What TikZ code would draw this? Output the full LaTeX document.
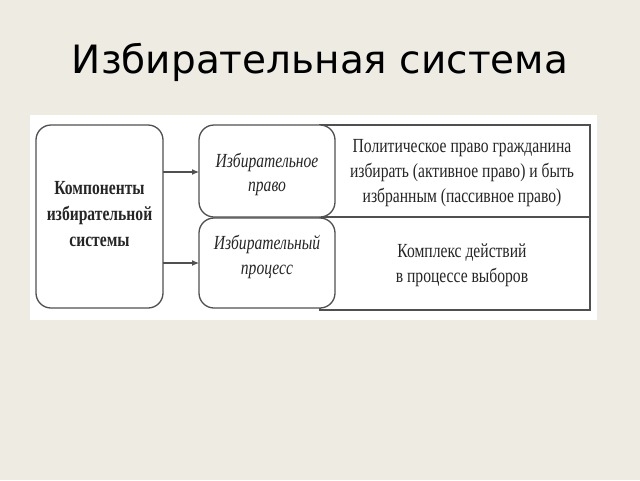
\documentclass[tikz,border=0pt]{standalone}
\usepackage{fontspec}
\setmainfont[FakeStretch=0.78]{Liberation Serif}
\newfontfamily\titlefont{DejaVu Sans}
\usetikzlibrary{arrows.meta}
\definecolor{bgc}{HTML}{EDEBE2}
\definecolor{ln}{HTML}{505050}
\tikzset{
  rbox/.style={draw=ln, line width=1.3pt, rounded corners=15pt},
  plainline/.style={draw=ln, line width=1.3pt},
  arr/.style={draw=ln, line width=1.1pt, -{Latex[length=7pt,width=6pt]}},
  txt/.style={align=center, font=\fontsize{20}{25}\selectfont, text=black!85, inner sep=0pt},
}
\begin{document}
\begin{tikzpicture}[x=1pt,y=-1pt]
\useasboundingbox (0,0) rectangle (640,480);
\fill[bgc] (0,0) rectangle (640,480);
\node[font=\titlefont\fontsize{39}{47}\selectfont, text=black, inner sep=0pt] (title) at (320,62) {Избирательная система};
\fill[white] (30,115) rectangle (597,320);
% right rectangle
\draw[plainline] (320,125) rectangle (590,310);
\draw[plainline] (320,217) -- (590,217);
% boxes
\draw[rbox, fill=white] (36,125) rectangle (163,308);
\draw[rbox, fill=white] (199,125) rectangle (335,217);
\draw[rbox, fill=white] (199,218) rectangle (335,308);
\node[txt, font=\fontsize{20}{26}\selectfont\bfseries] (comp) at (99.5,214) {Компоненты\\избирательной\\системы};
\node[txt, font=\fontsize{20}{24}\selectfont\itshape] (pravo) at (267,174) {Избирательное\\право};
\node[txt, font=\fontsize{20}{25}\selectfont\itshape] (proc) at (267,257) {Избирательный\\процесс};
\node[txt] (def1) at (462,173) {Политическое право гражданина\\избирать (активное право) и быть\\избранным (пассивное право)};
\node[txt] (def2) at (462,265) {Комплекс действий\\в процессе выборов};
\coordinate (a1s) at (163,172);
\coordinate (a1e) at (199,172);
\coordinate (a2s) at (163,263);
\coordinate (a2e) at (199,263);
\draw[arr] (a1s) -- (a1e);
\draw[arr] (a2s) -- (a2e);
\end{tikzpicture}
\end{document}
